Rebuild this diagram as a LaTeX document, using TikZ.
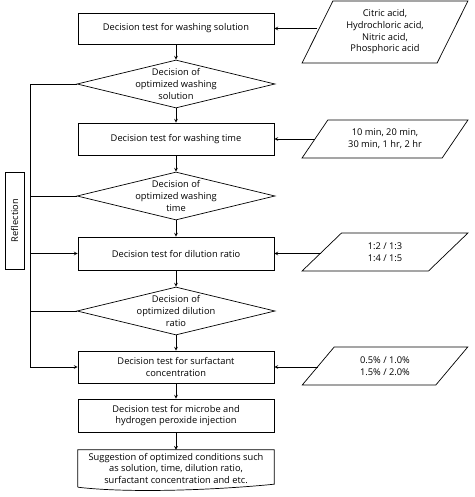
\documentclass[tikz,border=0pt]{standalone}
\usepackage{fontspec}
\setmainfont{Open Sans}
\usepackage{tikz}
\usetikzlibrary{arrows.meta,shapes.geometric}
\tikzset{
  stepbox/.style={draw,line width=0.7pt,minimum width=196pt,minimum height=32pt,align=center,inner sep=1pt},
  decide/.style={draw,diamond,line width=0.7pt,minimum width=198pt,minimum height=48pt,inner sep=0pt},
  para/.style={draw,trapezium,trapezium stretches=true,line width=0.7pt,minimum width=166pt,minimum height=38pt,
    trapezium left angle=49.9,trapezium right angle=130.1,align=center,inner sep=0pt},
  conn/.style={line width=0.7pt}
}
\newcommand{\flowfont}{\fontsize{9.3}{11.7}\selectfont}

\begin{document}
\begin{tikzpicture}[x=1pt,y=-1pt,font=\flowfont]
    \useasboundingbox (0,0) rectangle (474,497);

    % main column
    \node[stepbox,minimum height=31pt] (b1) at (176,28.5) {Decision test for washing solution};
    \node[decide] (d1) at (176,84) {};
    \node[align=center] at (d1) {Decision of\\optimized washing\\solution};
    \node[stepbox] (b2) at (176,139) {Decision test for washing time};
    \node[decide] (d2) at (176,196) {};
    \node[align=center] at (d2) {Decision of\\optimized washing\\time};
    \node[stepbox,minimum height=33pt] (b3) at (176,253.5) {Decision test for dilution ratio};
    \node[decide] (d3) at (176,311) {};
    \node[align=center] at (d3) {Decision of\\optimized dilution\\ratio};
    \node[stepbox] (b4) at (176,367) {Decision test for surfactant\\concentration};
    \node[stepbox,minimum height=33pt] (b5) at (176,415.5) {Decision test for microbe and\\hydrogen peroxide injection};
    \node[minimum width=196pt,minimum height=37pt,align=center,inner sep=0pt] (b6) at (176,468.5)
      {Suggestion of optimized conditions such\\as solution, time, dilution ratio,\\surfactant concentration and etc.};
    \draw[conn] (b6.south west) -- (b6.north west) -- (b6.north east) -- ([yshift=3pt]b6.south east)
      .. controls ([xshift=-60pt,yshift=-3pt]b6.south east) and ([xshift=50pt,yshift=-6pt]b6.south west) .. (b6.south west);

    % inputs
    \node[para,minimum height=62pt,trapezium left angle=62.7,trapezium right angle=117.3] (p1) at (385,32)
      {Citric acid,\\Hydrochloric acid,\\Nitric acid,\\Phosphoric acid};
    \node[para] (p2) at (385,139) {10 min, 20 min,\\30 min, 1 hr, 2 hr};
    \node[para] (p3) at (385,252) {1:2 / 1:3\\1:4 / 1:5};
    \node[para] (p4) at (385,366) {0.5\% / 1.0\%\\1.5\% / 2.0\%};

    % reflection
    \node[draw,line width=0.7pt,rotate=90,minimum width=97pt,minimum height=19pt,inner sep=0pt] (refl) at (14.5,220.5) {Reflection};

    % flow
    \draw [-stealth][conn] (b1) -- (d1);
    \draw [-stealth][conn] (d1) -- (b2);
    \draw [-stealth][conn] (b2) -- (d2);
    \draw [-stealth][conn] (d2) -- (b3);
    \draw [-stealth][conn] (b3) -- (d3);
    \draw [-stealth][conn] (d3) -- (b4);
    \draw [-stealth][conn] (b4) -- (b5);
    \draw [-stealth][conn] (b5) -- (b6);

    \draw [-stealth][conn] (p1.west |- b1.east) -- (b1.east);
    \draw [-stealth][conn] (p2.west |- b2.east) -- (b2.east);
    \draw [-stealth][conn] (p3.west |- b3.east) -- (b3.east);
    \draw [-stealth][conn] (p4.west |- b4.east) -- (b4.east);

    % feedback line
    \coordinate (fb) at (30,84);
    \draw [-stealth][conn] (d1.west) -- (fb) |- (b4.west);
    \draw [conn] (d2.west) -- (fb |- d2.west);
    \draw [conn] (d3.west) -- (fb |- d3.west);
    \draw [-stealth][conn] (fb |- b3.west) -- (b3.west);
\end{tikzpicture}
\end{document}
